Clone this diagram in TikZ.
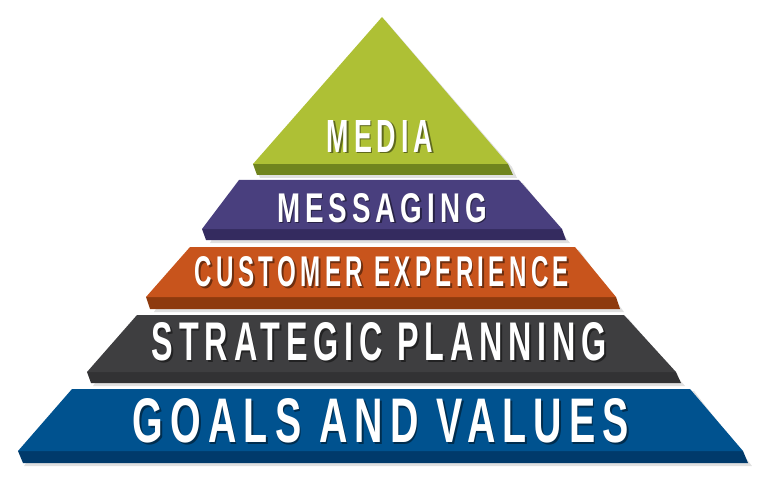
\documentclass[tikz,border=0pt]{standalone}
\usepackage{fontspec}
\setmainfont{Liberation Sans}[LetterSpace=18]
\usepackage{graphicx}
\usepackage{tikz}

\definecolor{mediaface}{RGB}{174,192,53}
\definecolor{mediaside}{RGB}{112,132,30}
\definecolor{msgface}{RGB}{73,63,126}
\definecolor{msgside}{RGB}{52,43,95}
\definecolor{custface}{RGB}{200,84,28}
\definecolor{custside}{RGB}{142,58,14}
\definecolor{planface}{RGB}{62,62,64}
\definecolor{planside}{RGB}{50,50,52}
\definecolor{goalface}{RGB}{0,82,143}
\definecolor{goalside}{RGB}{0,58,107}

\newcommand{\pyrtext}[3]{\resizebox{#1pt}{#2pt}{\bfseries #3}}

\begin{document}
\begin{tikzpicture}[x=1pt, y=-1pt,
label/.style={inner sep=0pt, text=white, anchor=center},
labelshadow/.style={inner sep=0pt, text=black, opacity=0.45, anchor=center},
bandshadow/.style={fill=black, opacity=0.12}]

\useasboundingbox (0,0) rectangle (768,481);

% goals and values
\fill[bandshadow] (75,392) -- (694,391) -- (752,466) -- (24,466) -- cycle;
\fill[goalside] (18,451) -- (743,451) -- (748,463) -- (23,463) -- cycle;
\fill[goalface] (72,389) -- (690,389) -- (743,451) -- (18,451) -- cycle;

% strategic planning
\fill[bandshadow] (140,318) -- (628,318) -- (685,386) -- (93,386) -- cycle;
\fill[planside] (87,372) -- (676,372) -- (681,383) -- (91,383) -- cycle;
\fill[planface] (137,315) -- (624,315) -- (676,372) -- (87,372) -- cycle;

% customer experience
\fill[bandshadow] (193,250) -- (579,250) -- (624,312) -- (154,312) -- cycle;
\fill[custside] (146,297) -- (616,297) -- (620,309) -- (150,309) -- cycle;
\fill[custface] (190,247) -- (575,247) -- (616,297) -- (146,297) -- cycle;

% messaging
\fill[bandshadow] (242,183) -- (523,183) -- (570,243) -- (210,243) -- cycle;
\fill[msgside] (202,229) -- (562,229) -- (566,240) -- (206,240) -- cycle;
\fill[msgface] (239,180) -- (519,180) -- (562,229) -- (202,229) -- cycle;

% media
\fill[bandshadow] (385,20) -- (512,167) -- (517,178) -- (260,178) -- (256,167) -- cycle;
\fill[mediaside] (253,164) -- (508,164) -- (513,175) -- (257,175) -- cycle;
\fill[mediaface] (382,17) -- (508,164) -- (253,164) -- cycle;

% labels
\node[labelshadow] (goals-s) at (382.5,422.5) {\pyrtext{496}{44}{GOALS AND VALUES}};
\node[label] (goals) at (381,421) {\pyrtext{496}{44}{GOALS AND VALUES}};
\node[labelshadow] (plan-s) at (381,343.5) {\pyrtext{455}{38}{STRATEGIC PLANNING}};
\node[label] (plan) at (379.5,342) {\pyrtext{455}{38}{STRATEGIC PLANNING}};
\node[labelshadow] (cust-s) at (383.5,273.5) {\pyrtext{374}{30}{CUSTOMER EXPERIENCE}};
\node[label] (cust) at (382,272) {\pyrtext{374}{30}{CUSTOMER EXPERIENCE}};
\node[labelshadow] (msg-s) at (383.5,209.5) {\pyrtext{210}{29}{MESSAGING}};
\node[label] (msg) at (382,208) {\pyrtext{210}{29}{MESSAGING}};
\node[labelshadow] (media-s) at (381.5,137.5) {\pyrtext{106}{32}{MEDIA}};
\node[label] (media) at (380,136) {\pyrtext{106}{32}{MEDIA}};

\end{tikzpicture}
\end{document}
